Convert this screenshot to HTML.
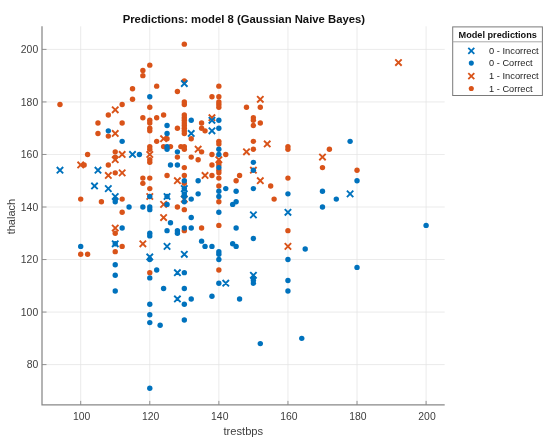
<!DOCTYPE html>
<html><head><meta charset="utf-8"><title>Predictions</title>
<style>html,body{margin:0;padding:0;background:#fff}svg{display:block}text{font-family:"Liberation Sans",Arial,Helvetica,sans-serif}</style></head><body>
<svg width="550" height="444" viewBox="0 0 550 444">
<rect width="550" height="444" fill="#fff"/>
<g stroke="#e4e4e4" stroke-width="0.75" shape-rendering="auto">
<line x1="80.70" y1="26.3" x2="80.70" y2="404.9"/>
<line x1="149.78" y1="26.3" x2="149.78" y2="404.9"/>
<line x1="218.86" y1="26.3" x2="218.86" y2="404.9"/>
<line x1="287.94" y1="26.3" x2="287.94" y2="404.9"/>
<line x1="357.02" y1="26.3" x2="357.02" y2="404.9"/>
<line x1="426.10" y1="26.3" x2="426.10" y2="404.9"/>
<line x1="42.0" y1="364.60" x2="444.7" y2="364.60"/>
<line x1="42.0" y1="312.07" x2="444.7" y2="312.07"/>
<line x1="42.0" y1="259.54" x2="444.7" y2="259.54"/>
<line x1="42.0" y1="207.00" x2="444.7" y2="207.00"/>
<line x1="42.0" y1="154.47" x2="444.7" y2="154.47"/>
<line x1="42.0" y1="101.93" x2="444.7" y2="101.93"/>
<line x1="42.0" y1="49.40" x2="444.7" y2="49.40"/>
</g>
<g stroke="#888" stroke-width="1.25" fill="none">
<path d="M42.0 26.3V404.9H444.7"/>
<line x1="80.70" y1="404.9" x2="80.70" y2="400.9" stroke-width="0.9"/>
<line x1="149.78" y1="404.9" x2="149.78" y2="400.9" stroke-width="0.9"/>
<line x1="218.86" y1="404.9" x2="218.86" y2="400.9" stroke-width="0.9"/>
<line x1="287.94" y1="404.9" x2="287.94" y2="400.9" stroke-width="0.9"/>
<line x1="357.02" y1="404.9" x2="357.02" y2="400.9" stroke-width="0.9"/>
<line x1="426.10" y1="404.9" x2="426.10" y2="400.9" stroke-width="0.9"/>
<line x1="42.0" y1="364.60" x2="46.5" stroke-width="0.9" y2="364.60"/>
<line x1="42.0" y1="312.07" x2="46.5" stroke-width="0.9" y2="312.07"/>
<line x1="42.0" y1="259.54" x2="46.5" stroke-width="0.9" y2="259.54"/>
<line x1="42.0" y1="207.00" x2="46.5" stroke-width="0.9" y2="207.00"/>
<line x1="42.0" y1="154.47" x2="46.5" stroke-width="0.9" y2="154.47"/>
<line x1="42.0" y1="101.93" x2="46.5" stroke-width="0.9" y2="101.93"/>
<line x1="42.0" y1="49.40" x2="46.5" stroke-width="0.9" y2="49.40"/>
</g>
<g font-size="10.4" fill="#404040">
<text x="81.60" y="419.79999999999995" text-anchor="middle">100</text>
<text x="150.68" y="419.79999999999995" text-anchor="middle">120</text>
<text x="219.76" y="419.79999999999995" text-anchor="middle">140</text>
<text x="288.84" y="419.79999999999995" text-anchor="middle">160</text>
<text x="357.92" y="419.79999999999995" text-anchor="middle">180</text>
<text x="427.00" y="419.79999999999995" text-anchor="middle">200</text>
<text x="38.2" y="368.40" text-anchor="end">80</text>
<text x="38.2" y="315.87" text-anchor="end">100</text>
<text x="38.2" y="263.34" text-anchor="end">120</text>
<text x="38.2" y="210.80" text-anchor="end">140</text>
<text x="38.2" y="158.27" text-anchor="end">160</text>
<text x="38.2" y="105.73" text-anchor="end">180</text>
<text x="38.2" y="53.20" text-anchor="end">200</text>
</g>
<text x="243.3" y="434.8" text-anchor="middle" font-size="11.2" fill="#404040">trestbps</text>
<text transform="translate(14.5,216.6) rotate(-90)" text-anchor="middle" font-size="11" fill="#404040">thalach</text>
<text x="122.7" y="22.5" font-size="11.3" font-weight="bold" fill="#111">Predictions: model 8 (Gaussian Naive Bayes)</text>
<g fill="#D95319">
<circle cx="59.98" cy="104.56" r="2.7"/>
<circle cx="132.51" cy="88.80" r="2.7"/>
<circle cx="132.51" cy="99.31" r="2.7"/>
<circle cx="122.15" cy="104.56" r="2.7"/>
<circle cx="122.15" cy="122.95" r="2.7"/>
<circle cx="108.33" cy="115.07" r="2.7"/>
<circle cx="108.33" cy="136.08" r="2.7"/>
<circle cx="108.33" cy="164.97" r="2.7"/>
<circle cx="142.87" cy="117.69" r="2.7"/>
<circle cx="142.87" cy="70.41" r="2.7"/>
<circle cx="142.87" cy="75.67" r="2.7"/>
<circle cx="142.87" cy="178.11" r="2.7"/>
<circle cx="142.87" cy="183.36" r="2.7"/>
<circle cx="97.97" cy="122.95" r="2.7"/>
<circle cx="97.97" cy="133.45" r="2.7"/>
<circle cx="87.61" cy="154.47" r="2.7"/>
<circle cx="87.61" cy="254.28" r="2.7"/>
<circle cx="115.24" cy="151.84" r="2.7"/>
<circle cx="115.24" cy="157.09" r="2.7"/>
<circle cx="115.24" cy="172.85" r="2.7"/>
<circle cx="115.24" cy="233.27" r="2.7"/>
<circle cx="115.24" cy="251.66" r="2.7"/>
<circle cx="84.15" cy="164.97" r="2.7"/>
<circle cx="80.70" cy="199.12" r="2.7"/>
<circle cx="80.70" cy="254.28" r="2.7"/>
<circle cx="122.15" cy="199.12" r="2.7"/>
<circle cx="122.15" cy="212.26" r="2.7"/>
<circle cx="122.15" cy="246.40" r="2.7"/>
<circle cx="101.42" cy="201.75" r="2.7"/>
<circle cx="149.78" cy="65.16" r="2.7"/>
<circle cx="149.78" cy="107.19" r="2.7"/>
<circle cx="149.78" cy="120.32" r="2.7"/>
<circle cx="149.78" cy="122.95" r="2.7"/>
<circle cx="149.78" cy="128.20" r="2.7"/>
<circle cx="149.78" cy="130.83" r="2.7"/>
<circle cx="149.78" cy="146.59" r="2.7"/>
<circle cx="149.78" cy="149.21" r="2.7"/>
<circle cx="149.78" cy="159.72" r="2.7"/>
<circle cx="149.78" cy="162.35" r="2.7"/>
<circle cx="149.78" cy="178.11" r="2.7"/>
<circle cx="149.78" cy="188.62" r="2.7"/>
<circle cx="149.78" cy="272.67" r="2.7"/>
<circle cx="156.69" cy="86.17" r="2.7"/>
<circle cx="156.69" cy="117.69" r="2.7"/>
<circle cx="156.69" cy="141.33" r="2.7"/>
<circle cx="163.60" cy="115.07" r="2.7"/>
<circle cx="163.60" cy="146.59" r="2.7"/>
<circle cx="167.05" cy="138.71" r="2.7"/>
<circle cx="167.05" cy="175.48" r="2.7"/>
<circle cx="170.50" cy="146.59" r="2.7"/>
<circle cx="177.41" cy="91.43" r="2.7"/>
<circle cx="177.41" cy="128.20" r="2.7"/>
<circle cx="177.41" cy="157.09" r="2.7"/>
<circle cx="177.41" cy="207.00" r="2.7"/>
<circle cx="180.87" cy="146.59" r="2.7"/>
<circle cx="184.32" cy="44.15" r="2.7"/>
<circle cx="184.32" cy="80.92" r="2.7"/>
<circle cx="184.32" cy="101.93" r="2.7"/>
<circle cx="184.32" cy="104.56" r="2.7"/>
<circle cx="184.32" cy="115.07" r="2.7"/>
<circle cx="184.32" cy="117.69" r="2.7"/>
<circle cx="184.32" cy="120.32" r="2.7"/>
<circle cx="184.32" cy="122.95" r="2.7"/>
<circle cx="184.32" cy="125.57" r="2.7"/>
<circle cx="184.32" cy="128.20" r="2.7"/>
<circle cx="184.32" cy="130.83" r="2.7"/>
<circle cx="184.32" cy="133.45" r="2.7"/>
<circle cx="184.32" cy="146.59" r="2.7"/>
<circle cx="184.32" cy="149.21" r="2.7"/>
<circle cx="184.32" cy="167.60" r="2.7"/>
<circle cx="184.32" cy="175.48" r="2.7"/>
<circle cx="184.32" cy="183.36" r="2.7"/>
<circle cx="184.32" cy="209.63" r="2.7"/>
<circle cx="184.32" cy="230.64" r="2.7"/>
<circle cx="191.23" cy="138.71" r="2.7"/>
<circle cx="191.23" cy="157.09" r="2.7"/>
<circle cx="198.14" cy="159.72" r="2.7"/>
<circle cx="201.59" cy="122.95" r="2.7"/>
<circle cx="201.59" cy="128.20" r="2.7"/>
<circle cx="201.59" cy="151.84" r="2.7"/>
<circle cx="201.59" cy="228.02" r="2.7"/>
<circle cx="205.04" cy="130.83" r="2.7"/>
<circle cx="211.95" cy="96.68" r="2.7"/>
<circle cx="211.95" cy="154.47" r="2.7"/>
<circle cx="211.95" cy="164.97" r="2.7"/>
<circle cx="211.95" cy="175.48" r="2.7"/>
<circle cx="218.86" cy="86.17" r="2.7"/>
<circle cx="218.86" cy="96.68" r="2.7"/>
<circle cx="218.86" cy="101.93" r="2.7"/>
<circle cx="218.86" cy="104.56" r="2.7"/>
<circle cx="218.86" cy="107.19" r="2.7"/>
<circle cx="218.86" cy="141.33" r="2.7"/>
<circle cx="218.86" cy="143.96" r="2.7"/>
<circle cx="218.86" cy="162.35" r="2.7"/>
<circle cx="218.86" cy="164.97" r="2.7"/>
<circle cx="218.86" cy="170.23" r="2.7"/>
<circle cx="218.86" cy="172.85" r="2.7"/>
<circle cx="218.86" cy="178.11" r="2.7"/>
<circle cx="218.86" cy="185.99" r="2.7"/>
<circle cx="218.86" cy="201.75" r="2.7"/>
<circle cx="218.86" cy="225.39" r="2.7"/>
<circle cx="218.86" cy="270.04" r="2.7"/>
<circle cx="225.77" cy="154.47" r="2.7"/>
<circle cx="236.13" cy="180.74" r="2.7"/>
<circle cx="239.58" cy="175.48" r="2.7"/>
<circle cx="246.49" cy="107.19" r="2.7"/>
<circle cx="253.40" cy="117.69" r="2.7"/>
<circle cx="253.40" cy="120.32" r="2.7"/>
<circle cx="253.40" cy="125.57" r="2.7"/>
<circle cx="253.40" cy="141.33" r="2.7"/>
<circle cx="253.40" cy="149.21" r="2.7"/>
<circle cx="260.31" cy="107.19" r="2.7"/>
<circle cx="260.31" cy="122.95" r="2.7"/>
<circle cx="270.67" cy="185.99" r="2.7"/>
<circle cx="274.12" cy="199.12" r="2.7"/>
<circle cx="287.94" cy="146.59" r="2.7"/>
<circle cx="287.94" cy="149.21" r="2.7"/>
<circle cx="287.94" cy="178.11" r="2.7"/>
<circle cx="287.94" cy="230.64" r="2.7"/>
<circle cx="322.48" cy="167.60" r="2.7"/>
<circle cx="329.39" cy="149.21" r="2.7"/>
<circle cx="357.02" cy="170.23" r="2.7"/>
</g>
<path d="M112.04 106.61l6.4 6.4m0 -6.4l-6.4 6.4M112.04 130.25l6.4 6.4m0 -6.4l-6.4 6.4M112.04 156.52l6.4 6.4m0 -6.4l-6.4 6.4M112.04 224.82l6.4 6.4m0 -6.4l-6.4 6.4M118.95 151.27l6.4 6.4m0 -6.4l-6.4 6.4M118.95 169.65l6.4 6.4m0 -6.4l-6.4 6.4M146.58 151.27l6.4 6.4m0 -6.4l-6.4 6.4M146.58 193.30l6.4 6.4m0 -6.4l-6.4 6.4M77.50 161.77l6.4 6.4m0 -6.4l-6.4 6.4M105.13 172.28l6.4 6.4m0 -6.4l-6.4 6.4M139.67 240.58l6.4 6.4m0 -6.4l-6.4 6.4M160.40 135.51l6.4 6.4m0 -6.4l-6.4 6.4M160.40 201.18l6.4 6.4m0 -6.4l-6.4 6.4M160.40 214.31l6.4 6.4m0 -6.4l-6.4 6.4M174.21 177.54l6.4 6.4m0 -6.4l-6.4 6.4M181.12 195.92l6.4 6.4m0 -6.4l-6.4 6.4M194.94 146.01l6.4 6.4m0 -6.4l-6.4 6.4M201.84 172.28l6.4 6.4m0 -6.4l-6.4 6.4M208.75 114.49l6.4 6.4m0 -6.4l-6.4 6.4M215.66 156.52l6.4 6.4m0 -6.4l-6.4 6.4M243.29 148.64l6.4 6.4m0 -6.4l-6.4 6.4M250.20 167.03l6.4 6.4m0 -6.4l-6.4 6.4M257.11 96.11l6.4 6.4m0 -6.4l-6.4 6.4M257.11 177.54l6.4 6.4m0 -6.4l-6.4 6.4M264.02 140.76l6.4 6.4m0 -6.4l-6.4 6.4M284.74 243.20l6.4 6.4m0 -6.4l-6.4 6.4M319.28 153.89l6.4 6.4m0 -6.4l-6.4 6.4M395.27 59.33l6.4 6.4m0 -6.4l-6.4 6.4" stroke="#D95319" stroke-width="1.9" fill="none"/>
<g fill="#0072BD">
<circle cx="149.78" cy="96.68" r="2.7"/>
<circle cx="108.33" cy="130.83" r="2.7"/>
<circle cx="122.15" cy="141.33" r="2.7"/>
<circle cx="139.42" cy="154.47" r="2.7"/>
<circle cx="115.24" cy="199.12" r="2.7"/>
<circle cx="115.24" cy="201.75" r="2.7"/>
<circle cx="115.24" cy="243.78" r="2.7"/>
<circle cx="115.24" cy="264.79" r="2.7"/>
<circle cx="115.24" cy="275.30" r="2.7"/>
<circle cx="115.24" cy="291.06" r="2.7"/>
<circle cx="129.06" cy="207.00" r="2.7"/>
<circle cx="142.87" cy="207.00" r="2.7"/>
<circle cx="149.78" cy="207.00" r="2.7"/>
<circle cx="149.78" cy="209.63" r="2.7"/>
<circle cx="149.78" cy="196.50" r="2.7"/>
<circle cx="149.78" cy="233.27" r="2.7"/>
<circle cx="149.78" cy="235.90" r="2.7"/>
<circle cx="149.78" cy="259.54" r="2.7"/>
<circle cx="149.78" cy="277.92" r="2.7"/>
<circle cx="149.78" cy="304.19" r="2.7"/>
<circle cx="149.78" cy="314.70" r="2.7"/>
<circle cx="149.78" cy="322.58" r="2.7"/>
<circle cx="149.78" cy="388.24" r="2.7"/>
<circle cx="122.15" cy="228.02" r="2.7"/>
<circle cx="80.70" cy="246.40" r="2.7"/>
<circle cx="156.69" cy="270.04" r="2.7"/>
<circle cx="160.14" cy="325.20" r="2.7"/>
<circle cx="163.60" cy="288.43" r="2.7"/>
<circle cx="167.05" cy="125.57" r="2.7"/>
<circle cx="167.05" cy="133.45" r="2.7"/>
<circle cx="167.05" cy="146.59" r="2.7"/>
<circle cx="167.05" cy="149.21" r="2.7"/>
<circle cx="167.05" cy="204.38" r="2.7"/>
<circle cx="167.05" cy="230.64" r="2.7"/>
<circle cx="167.05" cy="196.50" r="2.7"/>
<circle cx="170.50" cy="164.97" r="2.7"/>
<circle cx="170.50" cy="222.76" r="2.7"/>
<circle cx="177.41" cy="151.84" r="2.7"/>
<circle cx="177.41" cy="164.97" r="2.7"/>
<circle cx="177.41" cy="230.64" r="2.7"/>
<circle cx="177.41" cy="233.27" r="2.7"/>
<circle cx="184.32" cy="180.74" r="2.7"/>
<circle cx="184.32" cy="188.62" r="2.7"/>
<circle cx="184.32" cy="193.87" r="2.7"/>
<circle cx="184.32" cy="196.50" r="2.7"/>
<circle cx="184.32" cy="201.75" r="2.7"/>
<circle cx="184.32" cy="228.02" r="2.7"/>
<circle cx="184.32" cy="272.67" r="2.7"/>
<circle cx="184.32" cy="288.43" r="2.7"/>
<circle cx="184.32" cy="304.19" r="2.7"/>
<circle cx="184.32" cy="319.95" r="2.7"/>
<circle cx="191.23" cy="120.32" r="2.7"/>
<circle cx="191.23" cy="199.12" r="2.7"/>
<circle cx="191.23" cy="217.51" r="2.7"/>
<circle cx="191.23" cy="228.02" r="2.7"/>
<circle cx="191.23" cy="298.94" r="2.7"/>
<circle cx="198.14" cy="180.74" r="2.7"/>
<circle cx="198.14" cy="193.87" r="2.7"/>
<circle cx="201.59" cy="241.15" r="2.7"/>
<circle cx="205.04" cy="246.40" r="2.7"/>
<circle cx="211.95" cy="246.40" r="2.7"/>
<circle cx="211.95" cy="296.31" r="2.7"/>
<circle cx="218.86" cy="120.32" r="2.7"/>
<circle cx="218.86" cy="128.20" r="2.7"/>
<circle cx="218.86" cy="149.21" r="2.7"/>
<circle cx="218.86" cy="154.47" r="2.7"/>
<circle cx="218.86" cy="167.60" r="2.7"/>
<circle cx="218.86" cy="191.24" r="2.7"/>
<circle cx="218.86" cy="196.50" r="2.7"/>
<circle cx="218.86" cy="212.26" r="2.7"/>
<circle cx="218.86" cy="251.66" r="2.7"/>
<circle cx="218.86" cy="254.28" r="2.7"/>
<circle cx="218.86" cy="259.54" r="2.7"/>
<circle cx="218.86" cy="283.18" r="2.7"/>
<circle cx="225.77" cy="188.62" r="2.7"/>
<circle cx="232.68" cy="204.38" r="2.7"/>
<circle cx="232.68" cy="243.78" r="2.7"/>
<circle cx="236.13" cy="191.24" r="2.7"/>
<circle cx="236.13" cy="201.75" r="2.7"/>
<circle cx="236.13" cy="228.02" r="2.7"/>
<circle cx="236.13" cy="246.40" r="2.7"/>
<circle cx="239.58" cy="298.94" r="2.7"/>
<circle cx="253.40" cy="162.35" r="2.7"/>
<circle cx="253.40" cy="170.23" r="2.7"/>
<circle cx="253.40" cy="188.62" r="2.7"/>
<circle cx="253.40" cy="238.52" r="2.7"/>
<circle cx="253.40" cy="277.92" r="2.7"/>
<circle cx="253.40" cy="280.55" r="2.7"/>
<circle cx="253.40" cy="283.18" r="2.7"/>
<circle cx="260.31" cy="343.59" r="2.7"/>
<circle cx="287.94" cy="193.87" r="2.7"/>
<circle cx="287.94" cy="259.54" r="2.7"/>
<circle cx="287.94" cy="280.55" r="2.7"/>
<circle cx="287.94" cy="291.06" r="2.7"/>
<circle cx="301.76" cy="338.34" r="2.7"/>
<circle cx="305.21" cy="249.03" r="2.7"/>
<circle cx="322.48" cy="191.24" r="2.7"/>
<circle cx="322.48" cy="207.00" r="2.7"/>
<circle cx="336.30" cy="199.12" r="2.7"/>
<circle cx="350.11" cy="141.33" r="2.7"/>
<circle cx="357.02" cy="180.74" r="2.7"/>
<circle cx="357.02" cy="267.42" r="2.7"/>
<circle cx="426.10" cy="225.39" r="2.7"/>
</g>
<path d="M56.78 167.03l6.4 6.4m0 -6.4l-6.4 6.4M94.77 167.03l6.4 6.4m0 -6.4l-6.4 6.4M91.32 182.79l6.4 6.4m0 -6.4l-6.4 6.4M105.13 185.42l6.4 6.4m0 -6.4l-6.4 6.4M112.04 193.30l6.4 6.4m0 -6.4l-6.4 6.4M112.04 240.58l6.4 6.4m0 -6.4l-6.4 6.4M129.31 151.27l6.4 6.4m0 -6.4l-6.4 6.4M146.58 253.71l6.4 6.4m0 -6.4l-6.4 6.4M163.85 193.30l6.4 6.4m0 -6.4l-6.4 6.4M163.85 243.20l6.4 6.4m0 -6.4l-6.4 6.4M174.21 269.47l6.4 6.4m0 -6.4l-6.4 6.4M174.21 295.74l6.4 6.4m0 -6.4l-6.4 6.4M181.12 80.35l6.4 6.4m0 -6.4l-6.4 6.4M181.12 185.42l6.4 6.4m0 -6.4l-6.4 6.4M181.12 190.67l6.4 6.4m0 -6.4l-6.4 6.4M181.12 251.08l6.4 6.4m0 -6.4l-6.4 6.4M188.03 130.25l6.4 6.4m0 -6.4l-6.4 6.4M208.75 117.12l6.4 6.4m0 -6.4l-6.4 6.4M208.75 127.63l6.4 6.4m0 -6.4l-6.4 6.4M222.57 279.98l6.4 6.4m0 -6.4l-6.4 6.4M250.20 211.68l6.4 6.4m0 -6.4l-6.4 6.4M250.20 272.10l6.4 6.4m0 -6.4l-6.4 6.4M284.74 209.06l6.4 6.4m0 -6.4l-6.4 6.4M346.91 190.67l6.4 6.4m0 -6.4l-6.4 6.4" stroke="#0072BD" stroke-width="1.9" fill="none"/>
<rect x="452.7" y="26.9" width="89.7" height="68.6" fill="#fff" stroke="#7a7a7a" stroke-width="1"/>
<line x1="452.7" y1="41.8" x2="542.4" y2="41.8" stroke="#a8a8a8" stroke-width="1"/>
<text x="458.5" y="38.2" textLength="78.4" lengthAdjust="spacingAndGlyphs" font-size="9.8" font-weight="bold" fill="#111">Model predictions</text>
<path d="M468.3 47.9l6 6m0 -6l-6 6" stroke="#0072BD" stroke-width="1.8" fill="none"/>
<text x="489.1" y="54.0" textLength="49.6" lengthAdjust="spacingAndGlyphs" font-size="9.5" fill="#222">0 - Incorrect</text>
<circle cx="471.3" cy="63.1" r="2.55" fill="#0072BD"/>
<text x="489.1" y="66.4" textLength="43.5" lengthAdjust="spacingAndGlyphs" font-size="9.5" fill="#222">0 - Correct</text>
<path d="M468.3 73.2l6 6m0 -6l-6 6" stroke="#D95319" stroke-width="1.8" fill="none"/>
<text x="489.1" y="79.1" textLength="49.6" lengthAdjust="spacingAndGlyphs" font-size="9.5" fill="#222">1 - Incorrect</text>
<circle cx="471.3" cy="88.5" r="2.55" fill="#D95319"/>
<text x="489.1" y="91.6" textLength="43.5" lengthAdjust="spacingAndGlyphs" font-size="9.5" fill="#222">1 - Correct</text>
</svg></body></html>
